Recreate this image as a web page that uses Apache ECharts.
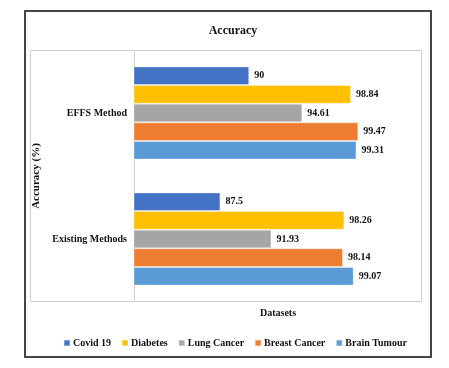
<!DOCTYPE html>
<html>
<head>
<meta charset="utf-8">
<script src="https://cdn.jsdelivr.net/npm/echarts@6/dist/echarts.min.js"></script>
<style>html,body{margin:0;padding:0;background:#fff;}#c{width:449px;height:368px;}</style>
</head>
<body>
<div id="c"></div>
<script>
var categories = ['EFFS Method', 'Existing Methods'];
var seriesNames = ['Covid 19', 'Diabetes', 'Lung Cancer', 'Breast Cancer', 'Brain Tumour'];
var covid19 = [90, 87.5];
var diabetes = [98.84, 98.26];
var lungCancer = [94.61, 91.93];
var breastCancer = [99.47, 98.14];
var brainTumour = [99.31, 99.07];
var colors = ['#4472C4', '#FFC000', '#A5A5A5', '#ED7D31', '#5B9BD5'];

var values = [covid19, diabetes, lungCancer, breastCancer, brainTumour];
var font = 'Liberation Serif';
var chart = echarts.init(document.getElementById('c'), null, {renderer: 'canvas'});
var series = seriesNames.map(function (n, i) {
  return {
    name: n, type: 'bar', data: values[i],
    barGap: '0%', barCategoryGap: '26%',
    itemStyle: {color: colors[i], borderColor: 'rgba(255,255,255,0.35)', borderWidth: 1},
    label: {show: true, position: 'right', distance: 5, color: '#111', fontFamily: font, fontWeight: 'bold', fontSize: 10},
    silent: true
  };
});
chart.setOption({
  animation: false,
  backgroundColor: '#fff',
  title: {text: 'Accuracy', left: 228, top: 20, textAlign: 'center',
    textStyle: {fontFamily: font, fontWeight: 'bold', fontSize: 12, color: '#111'}},
  graphic: [
    {type: 'rect', shape: {x: 25, y: 11, width: 406, height: 346}, style: {fill: 'none', stroke: '#444', lineWidth: 2}, z: 100},
    {type: 'rect', shape: {x: 30.5, y: 50.5, width: 391, height: 251}, style: {fill: 'none', stroke: '#cfcfcf', lineWidth: 1}, z: 50}
  ],
  legend: {left: 58, top: 333, itemWidth: 6, itemHeight: 6, itemGap: 10, icon: 'rect',
    textStyle: {fontFamily: font, fontWeight: 'bold', fontSize: 10, color: '#111', padding: [0, 0, 0, -2]},
    data: seriesNames},
  grid: {left: 134, right: 27, top: 50, bottom: 66, containLabel: false},
  xAxis: {type: 'value', min: 80, max: 105, show: true,
    axisLine: {show: false}, axisTick: {show: false}, axisLabel: {show: false}, splitLine: {show: false},
    name: 'Datasets', nameLocation: 'middle', nameGap: 6,
    nameTextStyle: {fontFamily: font, fontWeight: 'bold', fontSize: 10, color: '#111'}},
  yAxis: {type: 'category', data: categories, inverse: true,
    axisLine: {show: true, lineStyle: {color: '#cfcfcf', width: 1}}, axisTick: {show: false},
    axisLabel: {fontFamily: font, fontWeight: 'bold', fontSize: 10, color: '#111', margin: 7},
    name: 'Accuracy (%)', nameLocation: 'middle', nameRotate: 90, nameGap: 89,
    nameTextStyle: {fontFamily: font, fontWeight: 'bold', fontSize: 11, color: '#111'}},
  series: series
});
</script>
</body>
</html>
